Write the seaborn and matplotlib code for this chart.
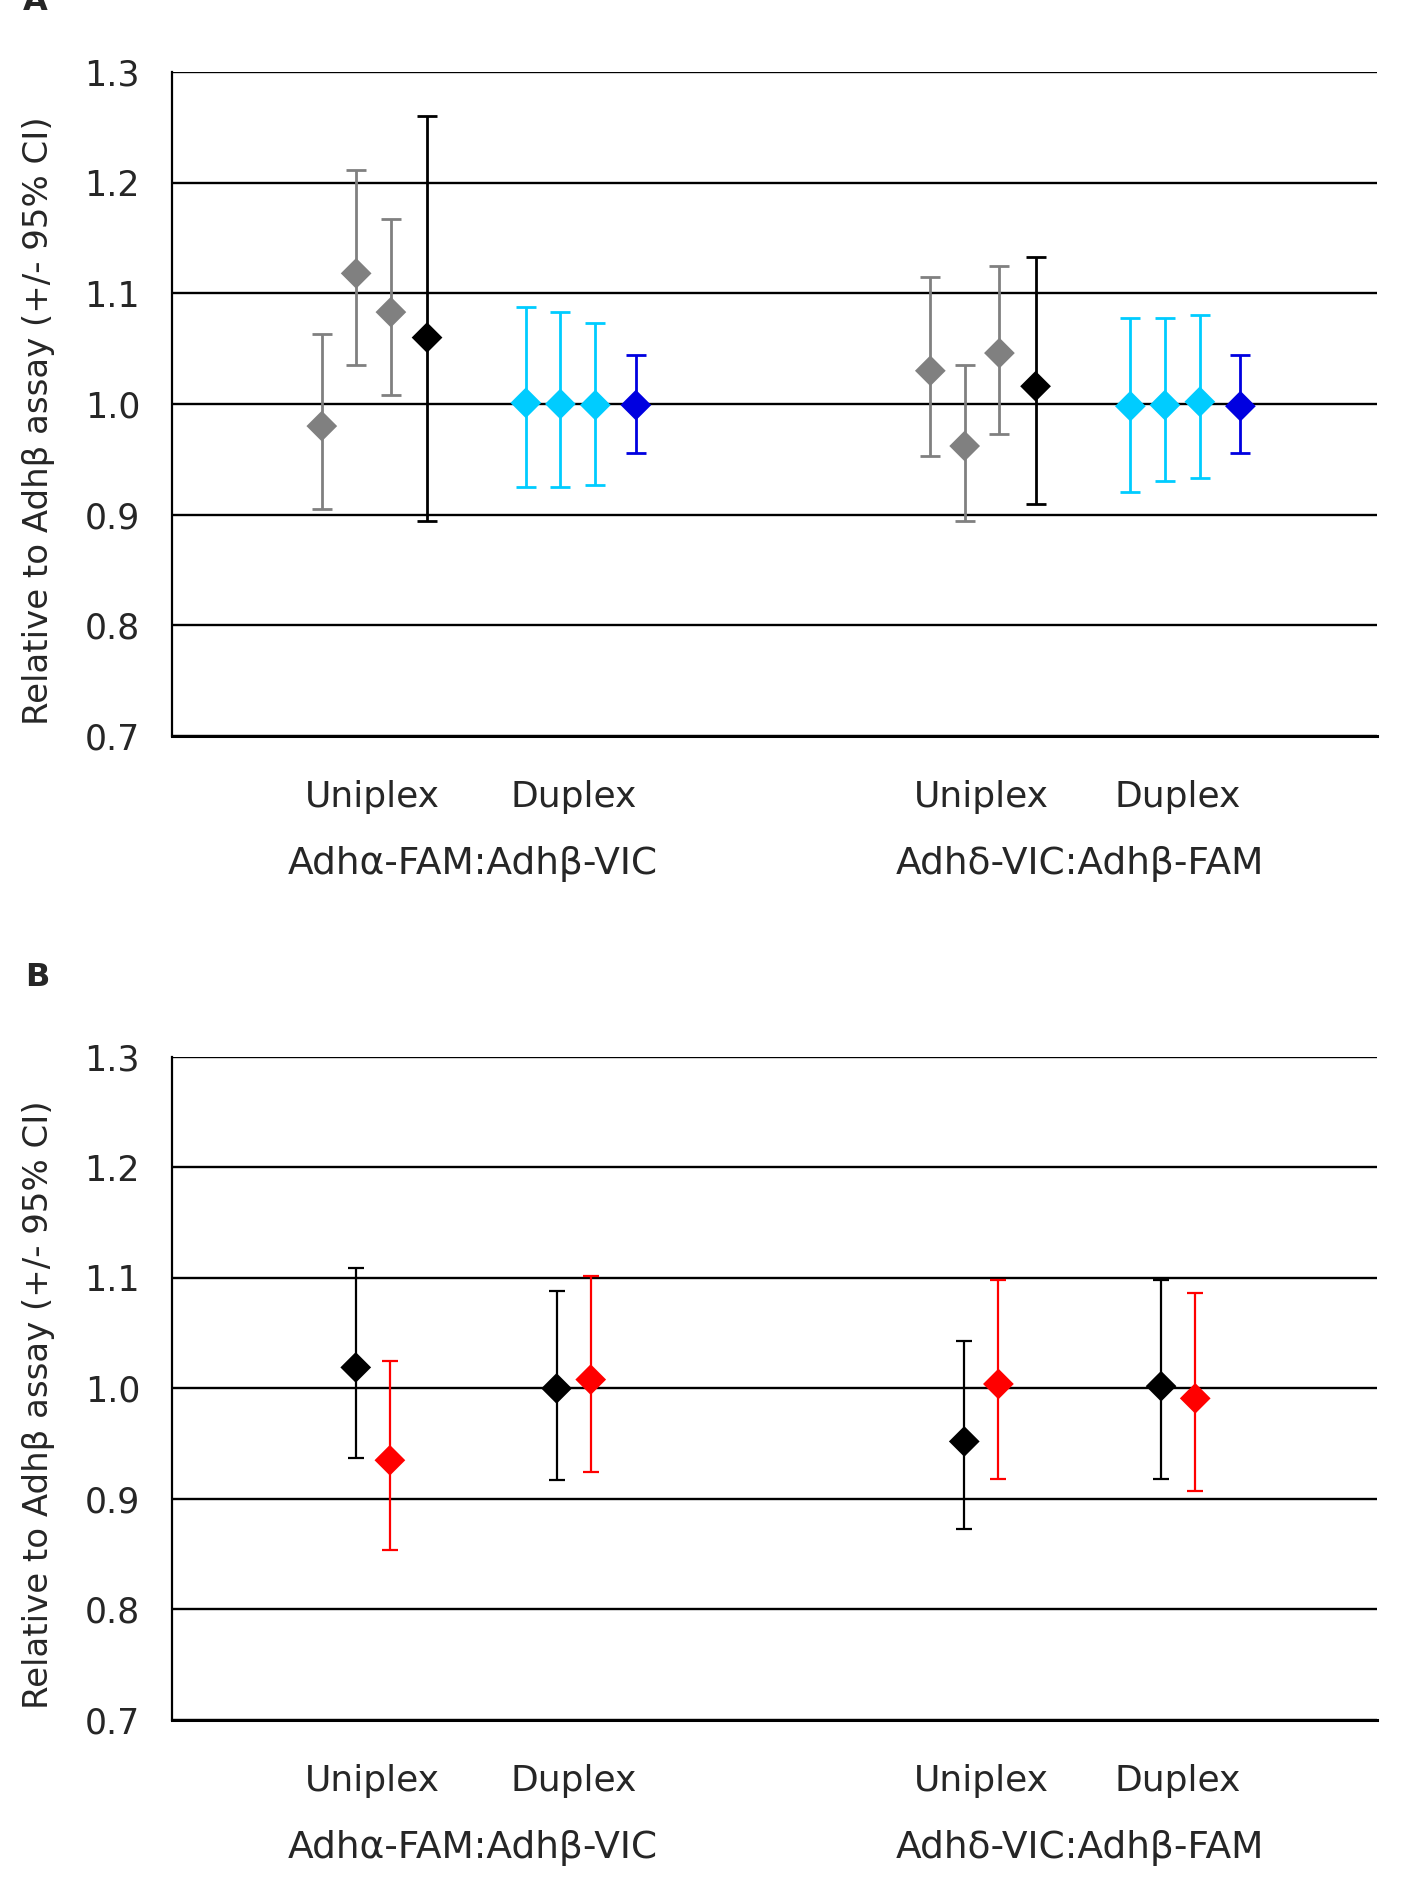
import matplotlib
matplotlib.use("Agg")
import matplotlib.pyplot as plt
import numpy as np
import pandas as pd
import seaborn as sns

# ---- data -------------------------------------------------------------
categories = ['Uniplex', 'Duplex', 'Uniplex', 'Duplex']
groups = ['Adhα-FAM:Adhβ-VIC', 'Adhδ-VIC:Adhβ-FAM']
y_ticks = [0.7, 0.8, 0.9, 1.0, 1.1, 1.2, 1.3]

# panel A: three replicates + mean, per assay pair
a_uni_rep = [[0.980, 1.118, 1.083], [1.030, 0.962, 1.046]]
a_uni_rep_lo = [[0.905, 1.035, 1.008], [0.953, 0.894, 0.973]]
a_uni_rep_hi = [[1.063, 1.211, 1.167], [1.115, 1.035, 1.125]]
a_uni_mean = [1.060, 1.016]
a_uni_mean_lo = [0.894, 0.910]
a_uni_mean_hi = [1.260, 1.133]

a_dup_rep = [[1.001, 1.000, 0.999], [0.998, 0.999, 1.002]]
a_dup_rep_lo = [[0.925, 0.925, 0.927], [0.920, 0.930, 0.933]]
a_dup_rep_hi = [[1.088, 1.083, 1.073], [1.078, 1.078, 1.080]]
a_dup_mean = [0.999, 0.998]
a_dup_mean_lo = [0.956, 0.956]
a_dup_mean_hi = [1.044, 1.044]

# panel B: two series per category
b_black = [1.019, 1.000, 0.952, 1.002]
b_black_lo = [0.937, 0.917, 0.873, 0.918]
b_black_hi = [1.109, 1.088, 1.043, 1.098]
b_red = [0.935, 1.008, 1.004, 0.991]
b_red_lo = [0.854, 0.924, 0.918, 0.907]
b_red_hi = [1.025, 1.102, 1.098, 1.086]

# ---- layout -----------------------------------------------------------
cat_pos = [1.0, 2.0, 4.03, 5.01]
uni_offsets = [-0.254, -0.083, 0.09, 0.27]
dup_offsets = [-0.238, -0.066, 0.108, 0.31]
b_offsets = [-0.085, 0.085]

GREY, CYAN, BLUE, RED = '#808080', '#00CCFF', '#0000E0', '#FF0000'

rows = []
for g in range(2):
    xu, xd = cat_pos[2 * g], cat_pos[2 * g + 1]
    for i in range(3):
        rows.append(dict(panel='A', x=xu + uni_offsets[i], y=a_uni_rep[g][i],
                         lo=a_uni_rep_lo[g][i], hi=a_uni_rep_hi[g][i], s='uni_rep'))
        rows.append(dict(panel='A', x=xd + dup_offsets[i], y=a_dup_rep[g][i],
                         lo=a_dup_rep_lo[g][i], hi=a_dup_rep_hi[g][i], s='dup_rep'))
    rows.append(dict(panel='A', x=xu + uni_offsets[3], y=a_uni_mean[g],
                     lo=a_uni_mean_lo[g], hi=a_uni_mean_hi[g], s='uni_mean'))
    rows.append(dict(panel='A', x=xd + dup_offsets[3], y=a_dup_mean[g],
                     lo=a_dup_mean_lo[g], hi=a_dup_mean_hi[g], s='dup_mean'))
for k in range(4):
    rows.append(dict(panel='B', x=cat_pos[k] + b_offsets[0], y=b_black[k],
                     lo=b_black_lo[k], hi=b_black_hi[k], s='black'))
    rows.append(dict(panel='B', x=cat_pos[k] + b_offsets[1], y=b_red[k],
                     lo=b_red_lo[k], hi=b_red_hi[k], s='red'))
df = pd.DataFrame(rows)

palette = {'uni_rep': GREY, 'dup_rep': CYAN, 'uni_mean': 'black',
           'dup_mean': BLUE, 'black': 'black', 'red': RED}

sns.set_theme(style="white")
plt.rcParams['font.family'] = ['DejaVu Sans']

fig = plt.figure(figsize=(14.12, 18.89), dpi=100)
ax_a = fig.add_axes([0.1218, 0.6104, 0.8534, 0.3515])
ax_b = fig.add_axes([0.1218, 0.0895, 0.8534, 0.3510])

for ax, panel in [(ax_a, 'A'), (ax_b, 'B')]:
    d = df[df['panel'] == panel]
    lw = 2.0 if panel == 'A' else 1.6
    cap = 7.2 if panel == 'A' else 5.6
    for _, r in d.iterrows():
        ax.errorbar(r['x'], r['y'], yerr=[[r['y'] - r['lo']], [r['hi'] - r['y']]],
                    fmt='none', ecolor=palette[r['s']], elinewidth=lw,
                    capsize=cap, capthick=lw, zorder=3)
    sns.scatterplot(data=d, x='x', y='y', hue='s', palette=palette, marker='D',
                    s=245, linewidth=0, legend=False, ax=ax, zorder=4)

    ax.set_xlim(0, 6)
    ax.set_ylim(0.7, 1.3)
    ax.set_yticks(y_ticks)
    ax.set_yticklabels([f'{v:.1f}' for v in y_ticks], fontsize=25)
    ax.set_xticks(cat_pos)
    ax.set_xticklabels(categories, fontsize=26)
    ax.set_xlabel('')
    ax.set_ylabel('Relative to Adhβ assay (+/- 95% CI)', fontsize=24.5)
    ax.yaxis.set_label_coords(-0.097, 0.475)
    ax.grid(axis='y', color='black', linewidth=1.7, zorder=1)
    ax.set_axisbelow(True)
    for side in ['top', 'right']:
        ax.spines[side].set_visible(False)
    ax.spines['left'].set_color('black')
    ax.spines['left'].set_linewidth(1.6)
    ax.spines['bottom'].set_color('black')
    ax.spines['bottom'].set_linewidth(2.2)
    ax.tick_params(axis='y', direction='out', length=9, width=1.6, color='black', pad=14)
    ax.tick_params(axis='x', direction='out', length=11, width=1.6, color='black', pad=21)
    for g, name in enumerate(groups):
        ax.text((cat_pos[2 * g] + cat_pos[2 * g + 1]) / 2, -0.193, name,
                transform=ax.get_xaxis_transform(), ha='center', va='center',
                fontsize=27)

fig.text(0.016, 1 - 10 / 1889, 'A', fontsize=23, fontweight='bold', va='baseline')
fig.text(0.018, 1 - 986 / 1889, 'B', fontsize=23, fontweight='bold', va='baseline')

fig.savefig('out.png', dpi=100)
